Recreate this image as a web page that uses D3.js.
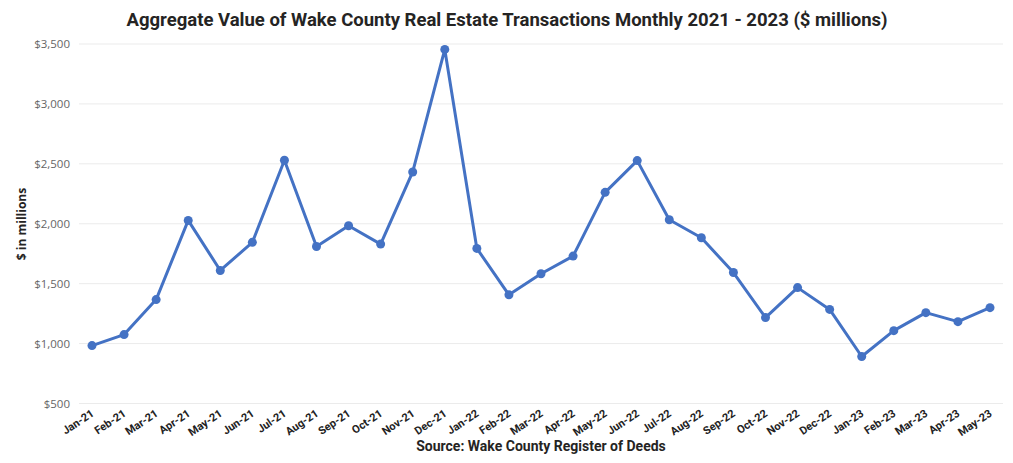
<!DOCTYPE html>
<html>
<head>
<meta charset="utf-8">
<script src="https://cdn.jsdelivr.net/npm/d3@7"></script>
<style>
  body { margin: 0; background: #fff; }
  svg { display: block; }
</style>
</head>
<body>
<div id="chart"></div>
<script>
// data
const months = ["Jan-21", "Feb-21", "Mar-21", "Apr-21", "May-21", "Jun-21", "Jul-21", "Aug-21", "Sep-21", "Oct-21", "Nov-21", "Dec-21",
    "Jan-22", "Feb-22", "Mar-22", "Apr-22", "May-22", "Jun-22", "Jul-22", "Aug-22", "Sep-22", "Oct-22", "Nov-22", "Dec-22",
    "Jan-23", "Feb-23", "Mar-23", "Apr-23", "May-23"];
const values = [983, 1075, 1367, 2028, 1610, 1845, 2530, 1810, 1983, 1830, 2432, 3455,
    1794, 1407, 1583, 1730, 2262, 2527, 2033, 1883, 1593, 1217, 1467, 1285,
    892, 1108, 1258, 1183, 1300];
const yTicks = [500, 1000, 1500, 2000, 2500, 3000, 3500];

const width = 1013,
    height = 463,
    margin = { top: 44, right: 10, bottom: 59, left: 79 };

const svg = d3.select("#chart")
    .append("svg")
    .attr("width", width)
    .attr("height", height);

// scales
const x = d3.scalePoint()
    .domain(months)
    .range([92, 990]);

const y = d3.scaleLinear()
    .domain([500, 3500])
    .range([height - margin.bottom - 0.5, margin.top]);

// gridlines
svg.append("g")
    .selectAll("line")
    .data(yTicks)
    .enter()
    .append("line")
    .attr("x1", margin.left)
    .attr("x2", width - margin.right)
    .attr("y1", d => y(d))
    .attr("y2", d => y(d))
    .attr("stroke", "#ebebeb")
    .attr("stroke-width", 1);

// y axis
const yAxis = d3.axisLeft(y)
    .tickValues(yTicks)
    .tickSize(0)
    .tickPadding(9)
    .tickFormat(d => "$" + d3.format(",")(d));

svg.append("g")
    .attr("transform", `translate(${margin.left}, 0)`)
    .call(yAxis)
    .call(g => g.select(".domain").remove())
    .selectAll("text")
    .attr("fill", "#666")
    .style("font-family", "'Open Sans', sans-serif")
    .style("font-size", "11.5px");

// x axis
const xAxis = d3.axisBottom(x).tickSize(0).tickPadding(0);

svg.append("g")
    .attr("transform", `translate(0, ${height - margin.bottom})`)
    .call(xAxis)
    .call(g => g.select(".domain").remove())
    .selectAll("text")
    .attr("fill", "#222")
    .style("font-family", "Roboto, sans-serif")
    .style("font-weight", "bold")
    .style("font-size", "11px")
    .attr("text-anchor", "end")
    .attr("dy", "0.35em")
    .attr("transform", "translate(0, 8) rotate(-34)");

// line
const line = d3.line()
    .x((d, i) => x(months[i]))
    .y(d => y(d));

svg.append("path")
    .datum(values)
    .attr("fill", "none")
    .attr("stroke", "#4472c4")
    .attr("stroke-width", 3)
    .attr("stroke-linejoin", "round")
    .attr("d", line);

svg.append("g")
    .selectAll("circle")
    .data(values)
    .enter()
    .append("circle")
    .attr("cx", (d, i) => x(months[i]))
    .attr("cy", d => y(d))
    .attr("r", 4.5)
    .attr("fill", "#4472c4");

// title
svg.append("text")
    .attr("x", 507)
    .attr("y", 26)
    .attr("text-anchor", "middle")
    .attr("fill", "#252423")
    .style("font-family", "Roboto, sans-serif")
    .style("font-weight", "bold")
    .style("font-size", "18.5px")
    .text("Aggregate Value of Wake County Real Estate Transactions Monthly 2021 - 2023 ($ millions)");

// y title
svg.append("text")
    .attr("transform", "translate(26, 224) rotate(-90)")
    .attr("text-anchor", "middle")
    .attr("fill", "#252423")
    .style("font-family", "'Open Sans', sans-serif")
    .style("font-weight", "bold")
    .style("font-size", "12px")
    .text("$ in millions");

// source
svg.append("text")
    .attr("x", 541)
    .attr("y", 451)
    .attr("text-anchor", "middle")
    .attr("fill", "#252423")
    .style("font-family", "Roboto, sans-serif")
    .style("font-weight", "bold")
    .style("font-size", "14px")
    .text("Source: Wake County Register of Deeds");
</script>
</body>
</html>
